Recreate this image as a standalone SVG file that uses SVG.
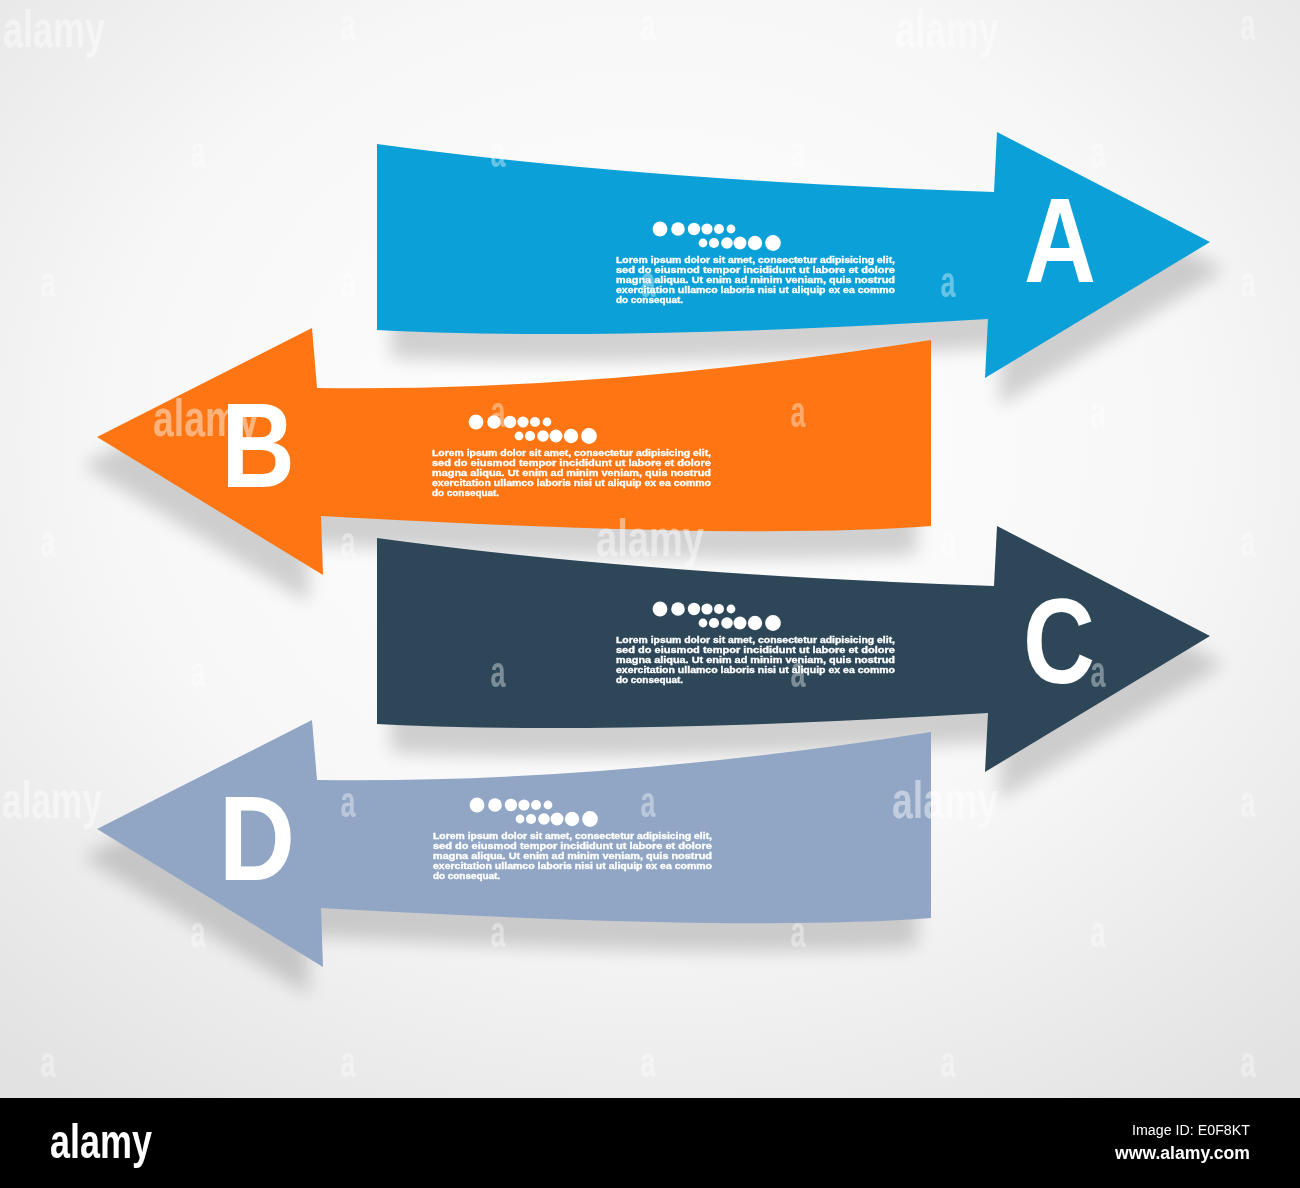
<svg xmlns="http://www.w3.org/2000/svg" xmlns:xlink="http://www.w3.org/1999/xlink" width="1300" height="1188" viewBox="0 0 1300 1188">
<style>
.tx{font-family:"Liberation Sans",Arial,sans-serif;font-weight:bold;font-size:9px;fill:#fff;stroke:#fff;stroke-width:0.35}
.big{font-family:"Liberation Sans",Arial,sans-serif;font-weight:bold;font-size:120px;fill:#fff;text-anchor:middle}
.wa{font-family:"Liberation Sans",Arial,sans-serif;font-weight:bold;font-size:44px;fill:#fff;fill-opacity:0.38;text-anchor:middle}
.wb{font-family:"Liberation Sans",Arial,sans-serif;font-weight:bold;font-size:52px;fill:#fff;fill-opacity:0.45;text-anchor:middle}
.dot{fill:#fff}
</style>
<defs>
<radialGradient id="bg" cx="50%" cy="40%" r="75%">
<stop offset="0" stop-color="#ffffff"/>
<stop offset="0.55" stop-color="#f7f7f7"/>
<stop offset="1" stop-color="#e2e2e2"/>
</radialGradient>
<filter id="sh" x="-20%" y="-30%" width="140%" height="160%">
<feGaussianBlur stdDeviation="9"/>
</filter>
<path id="arrR" d="M377,144 Q640,180 994,192 L997,132 L1210,242 L985,378 L988,319 Q600,342 377,330 Z"/>
<path id="arrL" d="M931,340 Q600,392 317,388 L312,328 L97,437 L323,575 L321,516 Q750,540 931,526 Z"/>
<g id="dots">
<circle class="dot" cx="44" cy="-34" r="7.4"/>
<circle class="dot" cx="62" cy="-34" r="6.8"/>
<circle class="dot" cx="78" cy="-34" r="6.2"/>
<circle class="dot" cx="91" cy="-34" r="5.6"/>
<circle class="dot" cx="103" cy="-34" r="5"/>
<circle class="dot" cx="115" cy="-34" r="4.4"/>
<circle class="dot" cx="87" cy="-20" r="4.4"/>
<circle class="dot" cx="98" cy="-20" r="5.1"/>
<circle class="dot" cx="111" cy="-20" r="5.8"/>
<circle class="dot" cx="124" cy="-20" r="6.5"/>
<circle class="dot" cx="139" cy="-20" r="7.2"/>
<circle class="dot" cx="157" cy="-20" r="7.9"/>
</g>
</defs>

<rect x="0" y="0" width="1300" height="1100" fill="url(#bg)"/>

<g id="shadows" fill="#000" opacity="0.17" filter="url(#sh)">
<use xlink:href="#arrR" href="#arrR" transform="translate(14,28)"/>
<use xlink:href="#arrL" href="#arrL" transform="translate(-14,28)"/>
<use xlink:href="#arrR" href="#arrR" transform="translate(14,422)"/>
<use xlink:href="#arrL" href="#arrL" transform="translate(-14,420)"/>
</g>

<g id="nodeA">
<use xlink:href="#arrR" href="#arrR" fill="#0ba0d7"/>
<text class="big" x="0" y="0" transform="translate(1060,282) scale(0.83,1)">A</text>
<g transform="translate(616,263)">
<use xlink:href="#dots" href="#dots"/>
<text class="tx" x="0" y="0" textLength="279" lengthAdjust="spacingAndGlyphs">Lorem ipsum dolor sit amet, consectetur adipisicing elit,</text>
<text class="tx" x="0" y="10" textLength="279" lengthAdjust="spacingAndGlyphs">sed do eiusmod tempor incididunt ut labore et dolore</text>
<text class="tx" x="0" y="20" textLength="279" lengthAdjust="spacingAndGlyphs">magna aliqua. Ut enim ad minim veniam, quis nostrud</text>
<text class="tx" x="0" y="30" textLength="279" lengthAdjust="spacingAndGlyphs">exercitation ullamco laboris nisi ut aliquip ex ea commo</text>
<text class="tx" x="0" y="39.5" textLength="67" lengthAdjust="spacingAndGlyphs">do consequat.</text>
</g>
</g>

<g id="nodeB">
<use xlink:href="#arrL" href="#arrL" fill="#fd7613"/>
<text class="big" x="0" y="0" transform="translate(258,487) scale(0.85,1)">B</text>
<g transform="translate(432,456)">
<use xlink:href="#dots" href="#dots"/>
<text class="tx" x="0" y="0" textLength="279" lengthAdjust="spacingAndGlyphs">Lorem ipsum dolor sit amet, consectetur adipisicing elit,</text>
<text class="tx" x="0" y="10" textLength="279" lengthAdjust="spacingAndGlyphs">sed do eiusmod tempor incididunt ut labore et dolore</text>
<text class="tx" x="0" y="20" textLength="279" lengthAdjust="spacingAndGlyphs">magna aliqua. Ut enim ad minim veniam, quis nostrud</text>
<text class="tx" x="0" y="30" textLength="279" lengthAdjust="spacingAndGlyphs">exercitation ullamco laboris nisi ut aliquip ex ea commo</text>
<text class="tx" x="0" y="39.5" textLength="67" lengthAdjust="spacingAndGlyphs">do consequat.</text>
</g>
</g>

<g id="nodeC">
<use xlink:href="#arrR" href="#arrR" fill="#2d4759" transform="translate(0,394)"/>
<text class="big" x="0" y="0" transform="translate(1059,683) scale(0.83,1)">C</text>
<g transform="translate(616,643)">
<use xlink:href="#dots" href="#dots"/>
<text class="tx" x="0" y="0" textLength="279" lengthAdjust="spacingAndGlyphs">Lorem ipsum dolor sit amet, consectetur adipisicing elit,</text>
<text class="tx" x="0" y="10" textLength="279" lengthAdjust="spacingAndGlyphs">sed do eiusmod tempor incididunt ut labore et dolore</text>
<text class="tx" x="0" y="20" textLength="279" lengthAdjust="spacingAndGlyphs">magna aliqua. Ut enim ad minim veniam, quis nostrud</text>
<text class="tx" x="0" y="30" textLength="279" lengthAdjust="spacingAndGlyphs">exercitation ullamco laboris nisi ut aliquip ex ea commo</text>
<text class="tx" x="0" y="39.5" textLength="67" lengthAdjust="spacingAndGlyphs">do consequat.</text>
</g>
</g>

<g id="nodeD">
<use xlink:href="#arrL" href="#arrL" fill="#91a6c5" transform="translate(0,392)"/>
<text class="big" x="0" y="0" transform="translate(257,880) scale(0.88,1)">D</text>
<g transform="translate(433,839)">
<use xlink:href="#dots" href="#dots"/>
<text class="tx" x="0" y="0" textLength="279" lengthAdjust="spacingAndGlyphs">Lorem ipsum dolor sit amet, consectetur adipisicing elit,</text>
<text class="tx" x="0" y="10" textLength="279" lengthAdjust="spacingAndGlyphs">sed do eiusmod tempor incididunt ut labore et dolore</text>
<text class="tx" x="0" y="20" textLength="279" lengthAdjust="spacingAndGlyphs">magna aliqua. Ut enim ad minim veniam, quis nostrud</text>
<text class="tx" x="0" y="30" textLength="279" lengthAdjust="spacingAndGlyphs">exercitation ullamco laboris nisi ut aliquip ex ea commo</text>
<text class="tx" x="0" y="39.5" textLength="67" lengthAdjust="spacingAndGlyphs">do consequat.</text>
</g>
</g>

<g id="connectors"></g>

<g id="watermarks">
<text class="wb" x="54" y="47" textLength="102" lengthAdjust="spacingAndGlyphs">alamy</text>
<text class="wb" x="947" y="47" textLength="104" lengthAdjust="spacingAndGlyphs">alamy</text>
<text class="wb" x="206" y="436" textLength="106" lengthAdjust="spacingAndGlyphs">alamy</text>
<text class="wb" x="650" y="556" textLength="108" lengthAdjust="spacingAndGlyphs">alamy</text>
<text class="wb" x="52" y="818" textLength="100" lengthAdjust="spacingAndGlyphs">alamy</text>
<text class="wb" x="945" y="818" textLength="106" lengthAdjust="spacingAndGlyphs">alamy</text>
<text class="wa" x="348" y="40" textLength="15" lengthAdjust="spacingAndGlyphs">a</text>
<text class="wa" x="648" y="40" textLength="15" lengthAdjust="spacingAndGlyphs">a</text>
<text class="wa" x="1248" y="40" textLength="15" lengthAdjust="spacingAndGlyphs">a</text>
<text class="wa" x="198" y="167" textLength="15" lengthAdjust="spacingAndGlyphs">a</text>
<text class="wa" x="498" y="167" textLength="15" lengthAdjust="spacingAndGlyphs">a</text>
<text class="wa" x="798" y="167" textLength="15" lengthAdjust="spacingAndGlyphs">a</text>
<text class="wa" x="1098" y="167" textLength="15" lengthAdjust="spacingAndGlyphs">a</text>
<text class="wa" x="48" y="297" textLength="15" lengthAdjust="spacingAndGlyphs">a</text>
<text class="wa" x="348" y="297" textLength="15" lengthAdjust="spacingAndGlyphs">a</text>
<text class="wa" x="648" y="297" textLength="15" lengthAdjust="spacingAndGlyphs">a</text>
<text class="wa" x="948" y="297" textLength="15" lengthAdjust="spacingAndGlyphs">a</text>
<text class="wa" x="1248" y="297" textLength="15" lengthAdjust="spacingAndGlyphs">a</text>
<text class="wa" x="498" y="427" textLength="15" lengthAdjust="spacingAndGlyphs">a</text>
<text class="wa" x="798" y="427" textLength="15" lengthAdjust="spacingAndGlyphs">a</text>
<text class="wa" x="1098" y="427" textLength="15" lengthAdjust="spacingAndGlyphs">a</text>
<text class="wa" x="48" y="557" textLength="15" lengthAdjust="spacingAndGlyphs">a</text>
<text class="wa" x="348" y="557" textLength="15" lengthAdjust="spacingAndGlyphs">a</text>
<text class="wa" x="948" y="557" textLength="15" lengthAdjust="spacingAndGlyphs">a</text>
<text class="wa" x="1248" y="557" textLength="15" lengthAdjust="spacingAndGlyphs">a</text>
<text class="wa" x="198" y="687" textLength="15" lengthAdjust="spacingAndGlyphs">a</text>
<text class="wa" x="498" y="687" textLength="15" lengthAdjust="spacingAndGlyphs">a</text>
<text class="wa" x="798" y="687" textLength="15" lengthAdjust="spacingAndGlyphs">a</text>
<text class="wa" x="1098" y="687" textLength="15" lengthAdjust="spacingAndGlyphs">a</text>
<text class="wa" x="348" y="817" textLength="15" lengthAdjust="spacingAndGlyphs">a</text>
<text class="wa" x="648" y="817" textLength="15" lengthAdjust="spacingAndGlyphs">a</text>
<text class="wa" x="1248" y="817" textLength="15" lengthAdjust="spacingAndGlyphs">a</text>
<text class="wa" x="198" y="947" textLength="15" lengthAdjust="spacingAndGlyphs">a</text>
<text class="wa" x="498" y="947" textLength="15" lengthAdjust="spacingAndGlyphs">a</text>
<text class="wa" x="798" y="947" textLength="15" lengthAdjust="spacingAndGlyphs">a</text>
<text class="wa" x="1098" y="947" textLength="15" lengthAdjust="spacingAndGlyphs">a</text>
<text class="wa" x="48" y="1077" textLength="15" lengthAdjust="spacingAndGlyphs">a</text>
<text class="wa" x="348" y="1077" textLength="15" lengthAdjust="spacingAndGlyphs">a</text>
<text class="wa" x="648" y="1077" textLength="15" lengthAdjust="spacingAndGlyphs">a</text>
<text class="wa" x="948" y="1077" textLength="15" lengthAdjust="spacingAndGlyphs">a</text>
<text class="wa" x="1248" y="1077" textLength="15" lengthAdjust="spacingAndGlyphs">a</text>
</g>

<g id="footer">
<rect x="0" y="1098" width="1300" height="90" fill="#000"/>
<text x="50" y="1158" font-family="Liberation Sans, Arial, sans-serif" font-weight="bold" font-size="48" fill="#fff" textLength="102" lengthAdjust="spacingAndGlyphs">alamy</text>
<text x="1250" y="1135" font-family="Liberation Sans, Arial, sans-serif" font-size="14" fill="#fff" text-anchor="end" textLength="118" lengthAdjust="spacingAndGlyphs">Image ID: E0F8KT</text>
<text x="1250" y="1159" font-family="Liberation Sans, Arial, sans-serif" font-weight="bold" font-size="18" fill="#fff" text-anchor="end" textLength="135" lengthAdjust="spacingAndGlyphs">www.alamy.com</text>
</g>
</svg>
